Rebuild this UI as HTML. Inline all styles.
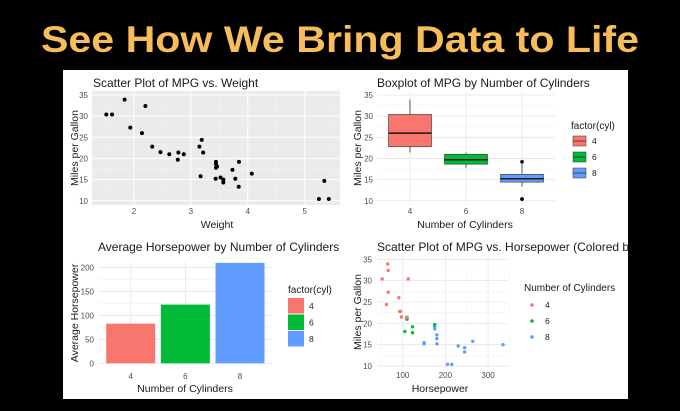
<!DOCTYPE html>
<html><head><meta charset="utf-8"><style>
html,body{margin:0;padding:0;background:#000;}
svg{display:block;font-family:"Liberation Sans",Arial,sans-serif;}
</style></head><body>
<svg id="root" width="680" height="411" viewBox="0 0 680 411">
<rect x="0" y="0" width="680" height="411" fill="#000"/>
<text x="340" y="52" text-anchor="middle" font-size="37" font-weight="bold" fill="#f8bd5a" textLength="598" lengthAdjust="spacingAndGlyphs">See How We Bring Data to Life</text>
<rect x="63" y="70" width="565" height="329" fill="#fff"/>
<g id="p1"></g>
<g id="p2"></g>
<g id="p3"></g>
<g id="p4"></g>
</svg>
<script>
const wt=[2.62,2.875,2.32,3.215,3.44,3.46,3.57,3.19,3.15,3.44,3.44,4.07,3.73,3.78,5.25,5.424,5.345,2.2,1.615,1.835,2.465,3.52,3.435,3.84,3.845,1.935,2.14,1.513,3.17,2.77,3.57,2.78];
const mpg=[21,21,22.8,21.4,18.7,18.1,14.3,24.4,22.8,19.2,17.8,16.4,17.3,15.2,10.4,10.4,14.7,32.4,30.4,33.9,21.5,15.5,15.2,13.3,19.2,27.3,26,30.4,15.8,19.7,15,21.4];
const hp=[110,110,93,110,175,105,245,62,95,123,123,180,180,180,205,215,230,66,52,65,97,150,150,245,175,66,91,113,264,175,335,109];
const cyl=[6,6,4,6,8,6,8,4,4,6,6,8,8,8,8,8,8,4,4,4,4,8,8,8,8,4,4,4,8,6,8,4];
const cylCats=[4,6,8];
const boxQ1=[22.8,18.65,14.4];
const boxMed=[26,19.7,15.2];
const boxQ3=[30.4,21.0,16.25];
const boxLo=[21.4,17.8,13.3];
const boxHi=[33.9,21.4,18.7];
const boxOut=[[],[],[10.4,10.4,19.2]];
const avgHp=[82.6,122.3,209.2];
const mpgTicks=[10,15,20,25,30,35];
const wtTicks=[2,3,4,5];
const hpTicks=[100,200,300];
const barTicks=[0,50,100,150,200];
const colors={4:"#f8766d",6:"#00ba38",8:"#619cff"};
const NS="http://www.w3.org/2000/svg";
function mk(parent,tag,attrs,text){const e=document.createElementNS(NS,tag);for(const k in attrs)e.setAttribute(k,attrs[k]);if(text!==undefined)e.textContent=text;parent.appendChild(e);return e;}
const p1=document.getElementById('p1'),p2=document.getElementById('p2'),p3=document.getElementById('p3'),p4=document.getElementById('p4');

// Panel 1
{const x=v=>134+(v-2)*56.9, y=v=>95+(35-v)*4.23;
let t=mk(p1,'rect',{x:92,y:91,width:248,height:114,fill:'#ebebeb'});


for(let v=12.5;v<35;v+=5){mk(p1,'line',{x1:92,x2:340,y1:y(v),y2:y(v),stroke:'#f5f5f5','stroke-width':0.5});}
for(let v=1.5;v<5.6;v+=1){mk(p1,'line',{y1:91,y2:205,x1:x(v),x2:x(v),stroke:'#f5f5f5','stroke-width':0.5});}
mpgTicks.forEach(v=>{mk(p1,'line',{x1:92,x2:340,y1:y(v),y2:y(v),stroke:'#fff','stroke-width':1});
const l=mk(p1,'text',{x:88,y:y(v)+3,'text-anchor':'end','font-size':8,fill:'#4d4d4d'},v);

});
wtTicks.forEach(v=>{mk(p1,'line',{y1:91,y2:205,x1:x(v),x2:x(v),stroke:'#fff','stroke-width':1});
const l=mk(p1,'text',{x:x(v),y:214,'text-anchor':'middle','font-size':8,fill:'#4d4d4d'},v);

});
wt.forEach((w,i)=>{const c=mk(p1,'circle',{cx:x(w),cy:y(mpg[i]),r:2,fill:'#000'});

});
t=mk(p1,'text',{x:93,y:87,'font-size':12,fill:'#1a1a1a'},'Scatter Plot of MPG vs. Weight');


t=mk(p1,'text',{x:217,y:228,'text-anchor':'middle','font-size':10.5,fill:'#1a1a1a'},'Weight');


t=mk(p1,'text',{x:0,y:0,'text-anchor':'middle','font-size':10.5,fill:'#1a1a1a',transform:'translate(78,148) rotate(-90)'},'Miles per Gallon');

}

// Panel 2
{const x=v=>410+(v-4)*28, y=v=>95+(35-v)*4.23;
for(let v=12.5;v<35;v+=5)mk(p2,'line',{x1:377,x2:555,y1:y(v),y2:y(v),stroke:'#f2f2f2','stroke-width':0.5});
mpgTicks.forEach(v=>{mk(p2,'line',{x1:377,x2:555,y1:y(v),y2:y(v),stroke:'#e6e6e6','stroke-width':0.8});
const l=mk(p2,'text',{x:373,y:y(v)+3,'text-anchor':'end','font-size':8,fill:'#4d4d4d'},v);

});
cylCats.forEach((c,i)=>{mk(p2,'line',{y1:91,y2:205,x1:x(c),x2:x(c),stroke:'#e6e6e6','stroke-width':0.8});
const l=mk(p2,'text',{x:x(c),y:214,'text-anchor':'middle','font-size':8,fill:'#4d4d4d'},c);


const g=mk(p2,'g',{});


mk(g,'line',{x1:x(c),x2:x(c),y1:y(boxHi[i]),y2:y(boxLo[i]),stroke:'#333','stroke-width':0.8});
mk(g,'rect',{x:x(c)-21.5,width:43,y:y(boxQ3[i]),height:y(boxQ1[i])-y(boxQ3[i]),fill:colors[c],stroke:'#333','stroke-width':0.6});
mk(g,'line',{x1:x(c)-21.5,x2:x(c)+21.5,y1:y(boxMed[i]),y2:y(boxMed[i]),stroke:'#1a1a1a','stroke-width':1.5});
boxOut[i].forEach(o=>mk(g,'circle',{cx:x(c),cy:y(o),r:1.8,fill:'#000'}));});
let t=mk(p2,'text',{x:377,y:87,'font-size':12,fill:'#1a1a1a'},'Boxplot of MPG by Number of Cylinders');


t=mk(p2,'text',{x:465,y:228,'text-anchor':'middle','font-size':10.5,fill:'#1a1a1a'},'Number of Cylinders');


t=mk(p2,'text',{x:0,y:0,'text-anchor':'middle','font-size':10.5,fill:'#1a1a1a',transform:'translate(361,148) rotate(-90)'},'Miles per Gallon');


t=mk(p2,'text',{x:571,y:129,'font-size':10,fill:'#1a1a1a'},'factor(cyl)');


cylCats.forEach((c,i)=>{const g=mk(p2,'g',{});


const yy=134+i*16;
mk(g,'rect',{x:573,y:yy+2,width:13,height:10,fill:colors[c],stroke:'#333','stroke-width':0.5});
mk(g,'line',{x1:573,x2:586,y1:yy+7,y2:yy+7,stroke:'#333','stroke-width':0.8});
mk(g,'text',{x:592,y:yy+10,'font-size':8.5,fill:'#1a1a1a'},c);});}

// Panel 3
{const y=v=>363.3-v*0.48, x=c=>130.7+(c-4)*27.33;
for(let v=25;v<225;v+=50)mk(p3,'line',{x1:98,x2:272,y1:y(v),y2:y(v),stroke:'#f2f2f2','stroke-width':0.5});
barTicks.forEach(v=>{mk(p3,'line',{x1:98,x2:272,y1:y(v),y2:y(v),stroke:'#e6e6e6','stroke-width':0.8});
const l=mk(p3,'text',{x:94,y:y(v)+3,'text-anchor':'end','font-size':8,fill:'#4d4d4d'},v);

});
cylCats.forEach((c,i)=>{mk(p3,'line',{y1:262,y2:363,x1:x(c),x2:x(c),stroke:'#e6e6e6','stroke-width':0.8});
const b=mk(p3,'rect',{x:x(c)-24.5,width:49,y:y(avgHp[i]),height:y(0)-y(avgHp[i]),fill:colors[c]});


const l=mk(p3,'text',{x:x(c),y:379,'text-anchor':'middle','font-size':8,fill:'#4d4d4d'},c);

});
let t=mk(p3,'text',{x:98,y:251,'font-size':12,fill:'#1a1a1a'},'Average Horsepower by Number of Cylinders');


t=mk(p3,'text',{x:185,y:392,'text-anchor':'middle','font-size':10.5,fill:'#1a1a1a'},'Number of Cylinders');


t=mk(p3,'text',{x:0,y:0,'text-anchor':'middle','font-size':10.5,fill:'#1a1a1a',transform:'translate(78,313) rotate(-90)'},'Average Horsepower');


t=mk(p3,'text',{x:288,y:293,'font-size':10,fill:'#1a1a1a'},'factor(cyl)');


cylCats.forEach((c,i)=>{const g=mk(p3,'g',{});


const yy=298+i*16.5;
mk(g,'rect',{x:288,y:yy,width:16,height:15.5,fill:colors[c]});
mk(g,'text',{x:309,y:yy+11,'font-size':8.5,fill:'#1a1a1a'},c);});}

// Panel 4
{const x=v=>402.7+(v-100)*0.427, y=v=>259.3+(35-v)*4.27;
for(let v=12.5;v<35;v+=5)mk(p4,'line',{x1:377,x2:508,y1:y(v),y2:y(v),stroke:'#f2f2f2','stroke-width':0.5});
for(let v=50;v<=350;v+=100)mk(p4,'line',{y1:255,y2:368,x1:x(v),x2:x(v),stroke:'#f2f2f2','stroke-width':0.5});
mpgTicks.forEach(v=>{mk(p4,'line',{x1:377,x2:508,y1:y(v),y2:y(v),stroke:'#e6e6e6','stroke-width':0.8});
const l=mk(p4,'text',{x:372,y:y(v)+3,'text-anchor':'end','font-size':8,fill:'#4d4d4d'},v);

});
hpTicks.forEach(v=>{mk(p4,'line',{y1:255,y2:368,x1:x(v),x2:x(v),stroke:'#e6e6e6','stroke-width':0.8});
const l=mk(p4,'text',{x:x(v),y:378,'text-anchor':'middle','font-size':8,fill:'#4d4d4d'},v);

});
hp.forEach((h,i)=>{const c=mk(p4,'circle',{cx:x(h),cy:y(mpg[i]),r:1.7,fill:colors[cyl[i]]});

});
let t=mk(p4,'text',{x:377,y:251,'font-size':12,fill:'#1a1a1a'},'Scatter Plot of MPG vs. Horsepower (Colored by Cylinders)');


t=mk(p4,'text',{x:440,y:392,'text-anchor':'middle','font-size':10.5,fill:'#1a1a1a'},'Horsepower');


t=mk(p4,'text',{x:0,y:0,'text-anchor':'middle','font-size':10.5,fill:'#1a1a1a',transform:'translate(361,312) rotate(-90)'},'Miles per Gallon');


t=mk(p4,'text',{x:524,y:291,'font-size':10,fill:'#1a1a1a'},'Number of Cylinders');


cylCats.forEach((c,i)=>{const g=mk(p4,'g',{});


const yy=305+i*16;
mk(g,'circle',{cx:532,cy:yy,r:1.8,fill:colors[c]});
mk(g,'text',{x:545,y:yy+3,'font-size':8.5,fill:'#1a1a1a'},c);});}
const cover=mk(document.getElementById('root'),'rect',{x:628,y:70,width:52,height:329,fill:'#000'});


</script>
</body></html>
